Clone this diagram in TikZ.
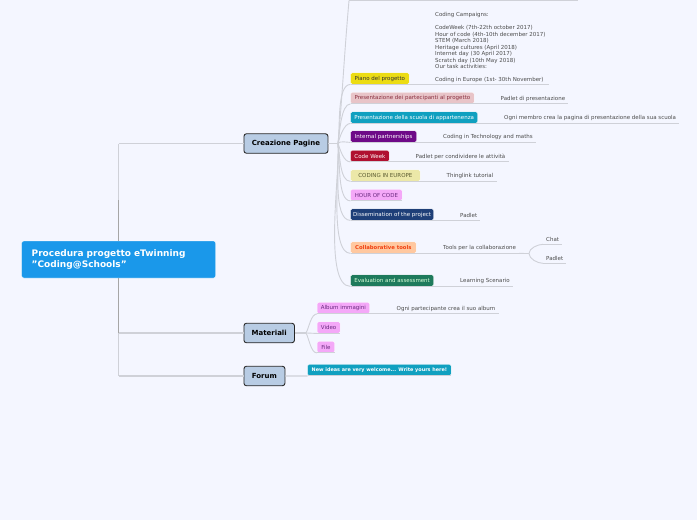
\documentclass[tikz,border=0pt]{standalone}
\usepackage{fontspec}
\setmainfont{DejaVu Sans}
\definecolor{paper}{HTML}{F4F6FF}
\definecolor{rootblue}{HTML}{1A98EA}
\definecolor{topicblue}{HTML}{B8CCE4}
\definecolor{wire}{HTML}{CFD1D8}
\definecolor{pinkbox}{HTML}{F4A8F8}
\definecolor{pinktext}{HTML}{6A2A80}
\definecolor{tealbox}{HTML}{10A0C0}
\definecolor{yellowbox}{HTML}{ECDC14}
\definecolor{rosebox}{HTML}{E8C4C8}
\definecolor{rosetext}{HTML}{8A3040}
\definecolor{violetbox}{HTML}{6E0A88}
\definecolor{redbox}{HTML}{B01030}
\definecolor{olivebox}{HTML}{ECE8A8}
\definecolor{olivetext}{HTML}{5A5A30}
\definecolor{navybox}{HTML}{1E3F78}
\definecolor{peachbox}{HTML}{FFC8A0}
\definecolor{peachtext}{HTML}{F04010}
\definecolor{greenbox}{HTML}{1E7A5C}
\tikzstyle{root}=[rectangle, rounded corners=2pt, draw=white, line width=0.4pt, fill=rootblue, text=white, anchor=west, align=left, inner sep=0pt, minimum height=37pt, font=\fontsize{9}{11.5}\selectfont\bfseries]
\tikzstyle{topic}=[rectangle, rounded corners=2.5pt, draw=black!85, line width=0.9pt, fill=topicblue, text=black, anchor=west, inner sep=0pt, minimum height=19.5pt, font=\fontsize{7}{8}\selectfont\bfseries]
\tikzstyle{subtopic}=[rectangle, rounded corners=1.5pt, draw=white, line width=0.3pt, anchor=west, inner sep=0pt, minimum height=11.5pt, font=\fontsize{5.5}{6}\selectfont]
\tikzstyle{leaf}=[anchor=west, inner sep=3pt, text=black!70, align=left, font=\fontsize{5.5}{6.5}\selectfont]
\tikzstyle{twig}=[draw=wire, line width=0.9pt]
\tikzstyle{trunk}=[draw=wire, line width=1.2pt]
\newcommand{\topic}{\node[topic]}
\newcommand{\subtopic}{\node[subtopic]}
\newcommand{\leaf}{\node[leaf]}
\begin{document}
\begin{tikzpicture}[x=1pt,y=-1pt]
	\useasboundingbox[fill=paper] (0,0) rectangle (697,520);
	%% the central idea and its three branches
	\node[root, minimum width=194pt, text width=174pt] (procedura) at (21.5,259.5) {Procedura progetto eTwinning\\"Coding@Schools"};
	\topic (creazione) at (243.5,143.5) [minimum width=84pt] {Creazione Pagine};
	\topic (materiali) at (243.5,333) [minimum width=50.5pt] {Materiali};
	\topic (forum) at (243.5,376) [minimum width=41pt] {Forum};
	\coordinate (trunkup) at (118.5,241);
	\coordinate (trunkdown) at (118.5,278);
	\coordinate (hubc) at (338,143.5);
	\coordinate (hubm) at (306,333);
	\coordinate (forkcol) at (529,253.5);
	%% pages
	\coordinate (campaign) at (349,0.5);
	\coordinate (campaignend) at (578,0.5);
	\subtopic (piano) at (350.5,78.5) [minimum width=58.5pt, fill=yellowbox, text=black!80] {Piano del progetto};
	\subtopic (partecipanti) at (350.5,98) [minimum width=123.5pt, fill=rosebox, text=rosetext] {Presentazione dei partecipanti al progetto};
	\subtopic (scuola) at (350.5,117.5) [minimum width=127pt, fill=tealbox, text=white] {Presentazione della scuola di appartenenza};
	\subtopic (partnership) at (350.5,136.5) [minimum width=66pt, fill=violetbox, text=white] {Internal partnerships};
	\subtopic (codeweek) at (350.5,156) [minimum width=38.5pt, fill=redbox, text=white] {Code Week};
	\subtopic (europe) at (350.5,175.5) [minimum width=69.5pt, fill=olivebox, text=olivetext] {CODING IN EUROPE};
	\subtopic (hour) at (350.5,195) [minimum width=51.5pt, fill=pinkbox, text=pinktext] {HOUR OF CODE};
	\subtopic (dissemination) at (350.5,214.5) [minimum width=83pt, fill=navybox, text=white] {Dissemination of the project};
	\subtopic (collab) at (350.5,247.5) [minimum width=65.5pt, fill=peachbox, text=peachtext, font=\fontsize{5.3}{6}\selectfont\bfseries] {Collaborative tools};
	\subtopic (evaluation) at (350.5,280.5) [minimum width=83pt, fill=greenbox, text=white!85!green] {Evaluation and assessment};
	\leaf (campaigntext) at (432,47.5) {Coding Campaigns:\\[6.5pt]CodeWeek (7th-22th october 2017)\\Hour of code (4th-10th december 2017)\\STEM (March 2018)\\Heritage cultures (April 2018)\\Internet day (30 April 2017)\\Scratch day (10th May 2018)\\Our task activities:\\[6.5pt]Coding in Europe (1st- 30th November)};
	\leaf (padletpres) at (497.5,98.5) {Padlet di presentazione};
	\leaf (ogni) at (501,118) {Ogni membro crea la pagina di presentazione della sua scuola};
	\leaf (technology) at (440,137) {Coding in Technology and maths};
	\leaf (padletcond) at (412.5,157) {Padlet per condividere le attività};
	\leaf (thinglink) at (443.5,176) {Thinglink tutorial};
	\leaf (padletdis) at (457,215) {Padlet};
	\leaf (tools) at (440,248) {Tools per la collaborazione};
	\leaf (chat) at (543,239) {Chat};
	\leaf (padletcol) at (543,258) {Padlet};
	\leaf (scenario) at (457,281) {Learning Scenario};
	%% materials and forum
	\subtopic (album) at (317,308) [minimum width=52.5pt, fill=pinkbox, text=pinktext] {Album immagini};
	\subtopic (video) at (317,327.5) [minimum width=23pt, fill=pinkbox, text=pinktext] {Video};
	\subtopic (file) at (317,347) [minimum width=17.5pt, fill=pinkbox, text=pinktext] {File};
	\leaf (partecipante) at (393.5,308.5) {Ogni partecipante crea il suo album};
	\subtopic (ideas) at (307.5,370) [minimum width=143.5pt, fill=tealbox, text=white, font=\fontsize{4.9}{6}\selectfont\bfseries] {New ideas are very welcome... Write yours here!};
	\path
		(trunkup) edge[trunk] (trunkup |- creazione.west)
		(trunkup |- creazione.west) edge[trunk] (creazione.west)
		(trunkdown) edge[trunk] (trunkdown |- forum.west)
		(trunkdown |- materiali.west) edge[trunk] (materiali.west)
		(trunkdown |- forum.west) edge[trunk] (forum.west)
		(trunkup) edge[draw=black!35, line width=1.6pt] (118.5,200)
		(trunkdown) edge[draw=black!35, line width=1.6pt] (118.5,333)
		(creazione.east) edge[trunk] (hubc)
		(materiali.east) edge[trunk] (hubm)
		(forum.east) edge[trunk] (ideas.south west)
		(ideas.south west) edge[twig] (ideas.south east)
	;
	\path
		(hubc) edge[twig, out=85, in=-95] (campaign)
		(campaign) edge[twig] (campaignend)
		(hubc) edge[twig, out=80, in=180, looseness=0.6] (piano.south west)
		(hubc) edge[twig, out=80, in=180, looseness=0.6] (partecipanti.south west)
		(hubc) edge[twig, out=75, in=180, looseness=0.7] (scuola.south west)
		(hubc) edge[twig, out=60, in=180, looseness=0.7] (partnership.south west)
		(hubc) edge[twig, out=-70, in=180, looseness=0.8] (codeweek.south west)
		(hubc) edge[twig, out=-80, in=180, looseness=0.7] (europe.south west)
		(hubc) edge[twig, out=-80, in=180, looseness=0.6] (hour.south west)
		(hubc) edge[twig, out=-85, in=180, looseness=0.6] (dissemination.south west)
		(hubc) edge[twig, out=-85, in=180, looseness=0.5] (collab.south west)
		(hubc) edge[twig, out=-85, in=180, looseness=0.5] (evaluation.south west)
		(piano.south west) edge[twig] (piano.south west -| campaigntext.east)
		(partecipanti.south west) edge[twig] (partecipanti.south west -| padletpres.east)
		(scuola.south west) edge[twig] (scuola.south west -| ogni.east)
		(partnership.south west) edge[twig] (partnership.south west -| technology.east)
		(codeweek.south west) edge[twig] (codeweek.south west -| padletcond.east)
		(europe.south west) edge[twig] (europe.south west -| thinglink.east)
		(hour.south west) edge[twig] (hour.south east)
		(dissemination.south west) edge[twig] (dissemination.south west -| padletdis.east)
		(collab.south west) edge[twig] (collab.south west -| tools.east)
		(evaluation.south west) edge[twig] (evaluation.south west -| scenario.east)
		(collab.south west -| tools.east) edge[twig] (forkcol)
		(forkcol) edge[twig, out=90, in=180, looseness=0.8] (chat.south west)
		(forkcol) edge[twig, out=-90, in=180, looseness=0.8] (padletcol.south west)
		(chat.south west) edge[twig] (chat.south east)
		(padletcol.south west) edge[twig] (padletcol.south east)
		(hubm) edge[twig, out=60, in=180, looseness=0.7] (album.south west)
		(hubm) edge[twig, out=0, in=180, looseness=0.5] (video.south west)
		(hubm) edge[twig, out=-60, in=180, looseness=0.7] (file.south west)
		(album.south west) edge[twig] (album.south west -| partecipante.east)
		(video.south west) edge[twig] (video.south east)
		(file.south west) edge[twig] (file.south east)
	;
\end{tikzpicture}
\end{document}
